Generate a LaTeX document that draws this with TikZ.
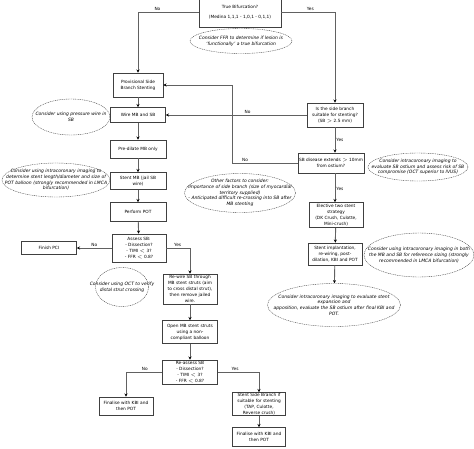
\documentclass[tikz,border=0pt]{standalone}
\usepackage{fontspec}
\setmainfont{DejaVu Sans}
\usetikzlibrary{arrows.meta}
\usetikzlibrary{shapes.geometric}
\usetikzlibrary{shadows}
\tikzset{
  flowbox/.style={
    draw=black!75,line width=0.6pt,fill=white,align=center,inner xsep=1pt,inner ysep=0.5pt,
    drop shadow={shadow xshift=0.9pt,shadow yshift=-0.9pt,fill=black!45},
    font=\fontsize{4.3}{6}\selectfont,
  },
  note/.style={ellipse,draw=black!75,dash pattern=on 1pt off 0.8pt,inner sep=0pt},
  note text/.style={align=center,inner sep=0pt,font=\fontsize{4.5}{5.7}\selectfont\itshape},
  flow/.style={draw=black!62,line width=0.9pt,-{Stealth[length=3.2pt,width=3pt,color=black]}},
  lbl/.style={font=\fontsize{4.3}{5}\selectfont,inner sep=1pt},
}

\begin{document}
\hyphenpenalty=10000
\begin{tikzpicture}[x=1pt,y=-1pt]
      \useasboundingbox (0,0) rectangle (474,448);

      % main column
      \node[flowbox,text width=80pt,minimum height=30pt] (bif) at (240,12) {True Bifurcation?\\[4pt](Medina 1,1,1 - 1,0,1 - 0,1,1)};
      \node[flowbox,text width=48pt,minimum height=24pt] (prov) at (138,85) {Provisional Side\\Branch Stenting};
      \node[flowbox,text width=53pt,minimum height=15pt] (wire) at (138,115) {Wire MB and SB};
      \node[flowbox,text width=54pt,minimum height=18pt] (predil) at (138,149) {Pre-dilate MB only};
      \node[flowbox,text width=54pt,minimum height=17pt] (stentmb) at (138,181) {Stent MB (jail SB\\wire)};
      \node[flowbox,text width=54pt,minimum height=19pt] (pot) at (138,212) {Perform POT};
      \node[flowbox,text width=52pt,minimum height=28pt] (assess) at (139,248) {Assess SB:\\- Dissection?\\- TIMI $<$ 3?\\- FFR $<$ 0.8?};
      \node[flowbox,text width=53pt,minimum height=13pt] (finish) at (49,248) {Finish PCI};
      \node[flowbox,text width=52pt,minimum height=30pt] (rewire) at (190,289) {Re-wire SB through\\MB stent struts (aim\\to cross distal strut),\\then remove jailed\\wire.};
      \node[flowbox,text width=53pt,minimum height=23pt] (openmb) at (190,332) {Open MB stent struts\\using a non-\\compliant balloon};
      \node[flowbox,text width=53pt,minimum height=24pt] (reassess) at (190,372) {Re-assess SB\\- Dissection?\\- TIMI $<$ 3?\\- FFR $<$ 0.8?};
      \node[flowbox,text width=52pt,minimum height=18pt] (finleft) at (126,406) {Finalise with KBI and\\then POT};
      \node[flowbox,text width=51pt,minimum height=23pt] (stentsb) at (259,404) {Stent Side Branch if\\suitable for stenting\\(TAP, Culotte,\\Reverse crush)};
      \node[flowbox,text width=51pt,minimum height=19pt] (finright) at (259,437) {Finalise with KBI and\\then POT};

      % two stent column
      \node[flowbox,text width=54pt,minimum height=24pt] (suit) at (335,115) {Is the side branch\\suitable for stenting?\\(SB $>$ 2.5 mm)};
      \node[flowbox,minimum width=62pt,minimum height=20pt] (extent) at (331,163) {SB disease extends $>$ 10mm\\from ostium?};
      \node[flowbox,text width=52pt,minimum height=25pt] (elective) at (336,215) {Elective two stent\\strategy\\(DK Crush, Culotte,\\Mini-crush)};
      \node[flowbox,text width=52pt,minimum height=22pt] (implant) at (335,254) {Stent implantation,\\re-wiring, post-\\dilation, KBI and POT};

      % notes
      \node[note,minimum width=102pt,minimum height=25pt,label={[note text,name=ffrtxt]center:{Consider FFR to determine if lesion is\\`functionally' a true bifurcation}}] (ffr) at (241,41) {};
      \node[note,minimum width=78pt,minimum height=36pt,label={[note text,name=presstxt]center:{Consider using pressure wire in\\SB}}] (press) at (71,117) {};
      \node[note,minimum width=108pt,minimum height=34pt,label={[note text,name=sizetxt]center:{Consider using intracoronary imaging to\\determine stent length/diameter and size of\\POT balloon (strongly recommended in LMCA\\bifurcation)}}] (sizeimg) at (56,180) {};
      \node[note,minimum width=111pt,minimum height=39pt,label={[note text,name=othertxt]center:{Other factors to consider:\\Importance of side branch (size of myocardial\\territory supplied)\\- Anticipated difficult re-crossing into SB after\\MB stenting}}] (other) at (240,193) {};
      \node[note,minimum width=53pt,minimum height=39pt,label={[note text,name=octtxt]center:{Consider using OCT to verify\\distal strut crossing}}] (oct) at (122,287) {};
      \node[note,minimum width=100pt,minimum height=28pt,label={[note text,name=ostiumtxt]center:{Consider intracoronary imaging to\\evaluate SB ostium and assess risk of SB\\compromise (OCT superior to IVUS)}}] (ostium) at (418,167) {};
      \node[note,minimum width=110pt,minimum height=44pt,label={[note text,name=refsizetxt]center:{Consider using intracoronary imaging in both\\the MB and SB for reference sizing (strongly\\recommended in LMCA bifurcation)}}] (refsize) at (419,255) {};
      \node[note,minimum width=133pt,minimum height=43pt,label={[note text,name=evaltxt]center:{Consider intracoronary imaging to evaluate stent\\expansion and\\apposition, evaluate the SB ostium after final KBI and\\POT.}}] (evalimg) at (334,305) {};

      % connectors
      \coordinate (nobend) at (232,163);
      \path[flow] (bif.west) -| node[lbl,above,pos=0.34] (no1) {No} (prov.north);
      \path[flow] (bif.east) -| node[lbl,above,pos=0.27] (yes1) {Yes} (suit.north);
      \path[flow] (prov) -- (wire);
      \path[flow] (wire) -- (predil);
      \path[flow] (predil) -- (stentmb);
      \path[flow] (stentmb) -- (pot);
      \path[flow] (pot) -- (assess);
      \path[flow] (assess.west) -- node[lbl,above] (no4) {No} (finish.east);
      \path[flow] (assess.east) -| node[lbl,above,pos=0.24] (yes4) {Yes} (rewire.north);
      \path[flow] (rewire) -- (openmb);
      \path[flow] (openmb) -- (reassess);
      \path[flow] (reassess.west) -| node[lbl,above,pos=0.24] (no5) {No} (finleft.north);
      \path[flow] (reassess.east) -| node[lbl,above,pos=0.21] (yes5) {Yes} (stentsb.north);
      \path[flow] (stentsb) -- (finright);
      \path[flow] (suit.west) -- node[lbl,above,pos=0.42] (no2) {No} (wire.east);
      \path[flow] (suit.south) -- node[lbl,right,pos=0.5] (yes2) {Yes} (suit.south |- extent.north);
      \path[flow] (extent.west) -- node[lbl,above,pos=0.8] (no3) {No} (nobend) |- (prov.east);
      \path[flow] (suit.south |- extent.south) -- node[lbl,right,pos=0.55] (yes3) {Yes} (elective.north -| suit.south);
      \path[flow] (elective) -- (implant);
      \path[flow] (implant) -- (evalimg);
\end{tikzpicture}
\end{document}
